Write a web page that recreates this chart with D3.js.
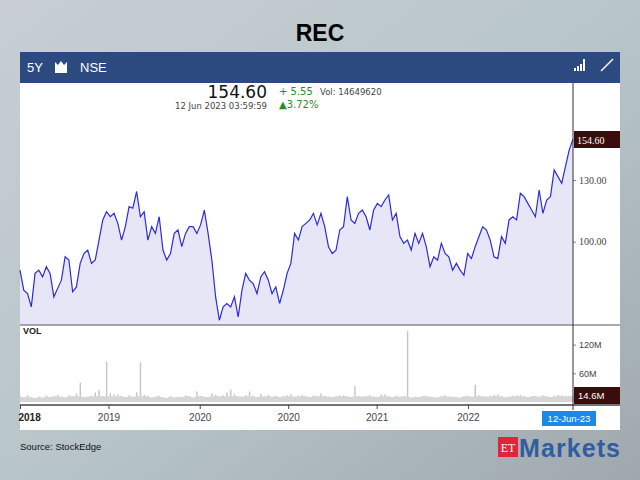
<!DOCTYPE html>
<html><head><meta charset="utf-8">
<script src="https://cdn.jsdelivr.net/npm/d3@7"></script>
<style>body{margin:0;}svg{display:block;}</style>
</head><body>
<svg id="c" width="640" height="480"></svg>
<script>
const prices = [88.6,81.4,80.2,75.8,87.4,88.6,86.1,89.9,87.4,79.1,82.0,84.9,93.8,92.5,80.8,82.5,91.2,95.1,96.5,91.2,92.5,100.7,109.7,113.6,111.2,112.8,108.1,100.7,106.6,116.1,115.3,123.8,111.2,113.6,100.7,106.6,103.6,111.2,96.5,92.5,95.1,103.6,105.1,97.9,103.6,106.6,106.6,103.6,107.4,114.4,103.6,92.5,79.1,71.6,75.8,76.9,75.8,79.1,72.6,81.4,87.4,84.9,83.6,80.2,86.1,88.0,84.9,80.2,82.5,76.9,81.4,87.4,91.2,103.6,100.7,106.6,108.1,109.7,112.8,107.4,112.8,106.6,97.9,95.1,96.5,105.1,106.6,121.1,109.7,108.1,112.8,114.4,111.2,105.1,114.4,117.7,116.1,119.4,122.0,109.7,112.8,102.2,99.3,100.7,96.5,103.6,99.3,103.6,97.9,89.9,93.8,92.5,99.3,95.1,93.8,88.6,91.2,88.6,86.7,95.1,93.1,97.9,102.2,106.6,105.1,100.7,93.8,93.1,102.2,99.3,109.7,111.2,109.7,122.9,121.1,117.7,114.4,111.2,124.6,112.8,119.4,121.1,135.7,131.9,128.2,137.7,147.8,154.6];
const volumes = [12,9,14,10,8,11,9,13,10,12,15,11,9,14,12,18,40,10,11,13,20,25,12,85,18,16,16,12,10,14,11,20,83,15,12,9,11,13,10,8,12,9,11,10,14,12,9,22,13,11,10,18,15,12,14,20,26,16,12,11,14,22,13,10,17,12,15,11,13,10,12,14,16,11,13,15,12,10,14,12,18,13,11,10,12,14,14,12,10,33,13,11,12,14,11,10,16,16,12,10,13,11,12,148,9,11,10,12,13,11,10,9,12,14,11,11,10,9,12,13,11,36,14,12,11,13,15,16,12,10,11,13,14,15,12,10,12,13,11,14,12,10,13,15,14,12,13,14.6];
const xTickPos = [0.0,0.16,0.325,0.485,0.645,0.81];
const xTickLabels = ["2018","2019","2020","2020","2021","2022"];
const yTicks = [100,130];
const volTicks = [60,120];

const svg = d3.select("#c");
const defs = svg.append("defs");
const g = defs.append("linearGradient").attr("id","bg").attr("x1",0).attr("x2",1).attr("y1",0).attr("y2",1);
g.append("stop").attr("offset","0").attr("stop-color","#c8ced3");
g.append("stop").attr("offset","0.5").attr("stop-color","#b8c6ca");
g.append("stop").attr("offset","1").attr("stop-color","#9fa8ad");
svg.append("rect").attr("width",640).attr("height",480).attr("fill","url(#bg)");
svg.append("text").attr("x",320).attr("y",41).attr("text-anchor","middle").attr("font-family","Liberation Sans").attr("font-weight","bold").attr("font-size",23).text("REC");

const L=20,R=620,plotR=573;
svg.append("rect").attr("x",L).attr("y",52).attr("width",R-L).attr("height",378).attr("fill","#fff");
svg.append("rect").attr("x",L).attr("y",52).attr("width",R-L).attr("height",31).attr("fill","#2c4a80");
svg.append("text").attr("x",27).attr("y",72).attr("fill","#fff").attr("font-family","Liberation Sans").attr("font-size",13).text("5Y");
svg.append("path").attr("d","M55,73 V62 L58,65 L61,61 L64,65 L67,62 V73 Z").attr("fill","#fff");
svg.append("text").attr("x",80).attr("y",72).attr("fill","#fff").attr("font-family","Liberation Sans").attr("font-size",13).text("NSE");
[[574,3],[577,5],[580,7],[583,12]].forEach(d=>svg.append("rect").attr("x",d[0]).attr("y",71-d[1]).attr("width",2).attr("height",d[1]).attr("fill","#fff"));
svg.append("line").attr("x1",601).attr("y1",71).attr("x2",613).attr("y2",59).attr("stroke","#fff").attr("stroke-width",1.5);

const x = d3.scaleLinear().domain([0,prices.length-1]).range([L,plotR]);
const y = d3.scaleLog().domain([100,130]).range([241.7,180]);
const area = d3.area().x((d,i)=>x(i)).y0(325).y1(d=>y(d));
svg.append("path").datum(prices).attr("d",area).attr("fill","#e6e6f7");
svg.append("path").datum(prices).attr("d",d3.line().x((d,i)=>x(i)).y(d=>y(d))).attr("fill","none").attr("stroke","#2b2be0").attr("stroke-width",1.2);

const yAxis = d3.axisRight(y).tickValues(yTicks).tickFormat(d3.format(".2f")).tickSize(3);
const ya = svg.append("g").attr("transform",`translate(${plotR},0)`).call(yAxis);
ya.select(".domain").remove();
ya.selectAll("text").attr("font-family","Liberation Serif").attr("font-size",10).attr("fill","#444");
ya.selectAll("line").attr("stroke","#888");

const yv = d3.scaleLinear().domain([0,60]).range([402,373.3]);
svg.append("g").selectAll("rect").data(volumes).join("rect")
 .attr("x",(d,i)=>x(i)-0.6).attr("width",1.4).attr("y",d=>yv(d)).attr("height",d=>402-yv(d)).attr("fill","#c4c4c4");
svg.append("path").datum(volumes).attr("d",d3.area().x((d,i)=>x(i)).y0(402).y1(d=>yv(Math.min(d,12)))).attr("fill","#d6d6d6");
const va = svg.append("g").attr("transform",`translate(${plotR},0)`).call(d3.axisRight(yv).tickValues(volTicks).tickFormat(d=>d+"M").tickSize(3));
va.select(".domain").remove();
va.selectAll("text").attr("font-family","Liberation Sans").attr("font-size",9).attr("fill","#444");
va.selectAll("line").attr("stroke","#888");
svg.append("text").attr("x",23).attr("y",334).attr("font-family","Liberation Sans").attr("font-weight","bold").attr("font-size",9).attr("fill","#222").text("VOL");

svg.append("line").attr("x1",L).attr("x2",R).attr("y1",325).attr("y2",325).attr("stroke","#555").attr("stroke-width",1);
svg.append("line").attr("x1",L).attr("x2",R).attr("y1",405).attr("y2",405).attr("stroke","#444").attr("stroke-width",1.5);
svg.append("line").attr("x1",plotR).attr("x2",plotR).attr("y1",83).attr("y2",410).attr("stroke","#333").attr("stroke-width",1);

const xt = d3.scaleLinear().domain([0,1]).range([L,plotR]);
const xa = svg.append("g").attr("transform","translate(0,405)").call(d3.axisBottom(xt).tickValues(xTickPos).tickFormat((d,i)=>xTickLabels[i]).tickSize(4));
xa.select(".domain").remove();
xa.selectAll("line").attr("stroke","#444");
xa.selectAll("text").attr("font-family","Liberation Sans").attr("font-size",10).attr("fill","#444").attr("dy","0.9em");
xa.select(".tick text").attr("text-anchor","start").attr("font-weight","bold").attr("fill","#222").attr("dx",-2);

svg.append("rect").attr("x",574).attr("y",131).attr("width",46).attr("height",17).attr("fill","#3a0c0c");
svg.append("text").attr("x",577).attr("y",143.5).attr("fill","#fff").attr("font-family","Liberation Serif").attr("font-size",10).text("154.60");
svg.append("rect").attr("x",574).attr("y",387).attr("width",46).attr("height",17).attr("fill","#3a0c0c");
svg.append("text").attr("x",578).attr("y",399).attr("fill","#fff").attr("font-family","Liberation Sans").attr("font-size",9.5).text("14.6M");
svg.append("rect").attr("x",542).attr("y",411).attr("width",54).attr("height",15).attr("fill","#1e88e5");
svg.append("text").attr("x",569).attr("y",422).attr("text-anchor","middle").attr("fill","#fff").attr("font-family","Liberation Sans").attr("font-size",9.5).text("12-Jun-23");

svg.append("text").attr("x",267).attr("y",98).attr("text-anchor","end").attr("font-family","DejaVu Sans").attr("font-size",17).attr("fill","#111").text("154.60");
svg.append("text").attr("x",267).attr("y",109).attr("text-anchor","end").attr("font-family","DejaVu Sans").attr("font-size",8.5).attr("fill","#444").text("12 Jun 2023 03:59:59");
svg.append("text").attr("x",279).attr("y",95).attr("font-family","DejaVu Sans").attr("font-size",10).attr("fill","#2a8a2a").text("+ 5.55");
svg.append("text").attr("x",320).attr("y",95).attr("font-family","DejaVu Sans").attr("font-size",8.5).attr("fill","#444").text("Vol: 14649620");
svg.append("text").attr("x",279).attr("y",108).attr("font-family","DejaVu Sans").attr("font-size",10).attr("fill","#2a8a2a").text("▲3.72%");

svg.append("text").attr("x",20).attr("y",450).attr("font-family","Liberation Sans").attr("font-size",9.5).attr("fill","#111").text("Source:  StockEdge");
svg.append("rect").attr("x",498).attr("y",437).attr("width",20).attr("height",20).attr("fill","#e0243a");
svg.append("text").attr("x",508).attr("y",452).attr("text-anchor","middle").attr("fill","#fff").attr("font-family","Liberation Serif").attr("font-size",12).text("ET");
svg.append("text").attr("x",519).attr("y",457).attr("fill","#2f5d9e").attr("font-family","Liberation Sans").attr("font-weight","bold").attr("font-size",25).attr("textLength",101).text("Markets");
</script>
</body></html>
